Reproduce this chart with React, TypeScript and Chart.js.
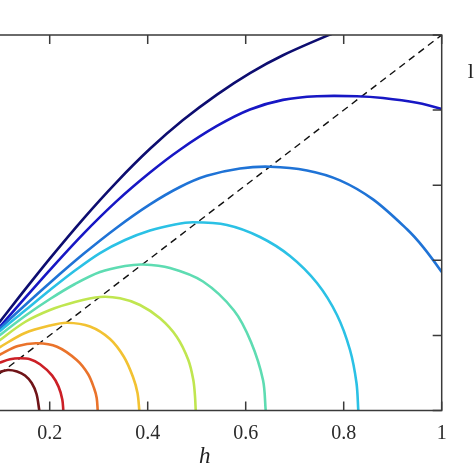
import React, { useEffect, useRef } from "react";
import { Chart, registerables, ChartOptions, Plugin } from "chart.js";

Chart.register(...registerables);

// each curve as (h, y) pairs
const darkRedX = [0.0741, 0.0986, 0.1149, 0.1333, 0.1496, 0.1633, 0.1731, 0.1788];
const darkRedY = [0.0905, 0.1025, 0.1079, 0.1039, 0.0932, 0.0732, 0.0439, 0];

const redX = [0.068, 0.0986, 0.119, 0.1394, 0.1598, 0.1802, 0.2047, 0.218, 0.2257, 0.2278];
const redY = [0.1132, 0.1278, 0.1364, 0.139, 0.1366, 0.1233, 0.0937, 0.0636, 0.0296, 0];

const orangeX = [0.068, 0.0986, 0.1353, 0.1741, 0.2149, 0.2551, 0.2782, 0.2904, 0.2959, 0.298];
const orangeY = [0.1292, 0.1491, 0.1718, 0.179, 0.1699, 0.1345, 0.0972, 0.0599, 0.0333, 0];

const yellowX = [0.068, 0.0986, 0.1496, 0.2006, 0.2353, 0.2822, 0.3231, 0.3516, 0.37, 0.3792, 0.3829];
const yellowY = [0.1451, 0.1691, 0.2064, 0.2264, 0.2338, 0.2237, 0.1904, 0.1425, 0.0892, 0.0466, 0];

const limeX = [0.068, 0.0986, 0.1496, 0.2006, 0.2516, 0.3027, 0.3435, 0.3843, 0.4251, 0.4592, 0.4829, 0.4931, 0.4965, 0.498];
const limeY = [0.1558, 0.1877, 0.2357, 0.2676, 0.2889, 0.3023, 0.2988, 0.281, 0.2455, 0.1965, 0.1345, 0.0812, 0.0386, 0];

const aquaX = [0.068, 0.0986, 0.1496, 0.2006, 0.2516, 0.3027, 0.3537, 0.3904, 0.4455, 0.5129, 0.5761, 0.6108, 0.6353, 0.6408];
const aquaY = [0.1691, 0.2011, 0.2517, 0.2969, 0.3369, 0.3688, 0.3848, 0.3888, 0.3795, 0.3435, 0.2663, 0.1824, 0.0812, 0];

const cyanX = [0.068, 0.0986, 0.1496, 0.2006, 0.2516, 0.3027, 0.3537, 0.4047, 0.4557, 0.4924, 0.5618, 0.6292, 0.6904, 0.7455, 0.7863, 0.8129, 0.8261, 0.8298];
const cyanY = [0.1771, 0.2117, 0.2663, 0.3209, 0.3728, 0.4194, 0.4541, 0.4794, 0.4953, 0.5012, 0.494, 0.4621, 0.4115, 0.3395, 0.2543, 0.1611, 0.0732, 0];

const azureX = [0.068, 0.0986, 0.1394, 0.2006, 0.2686, 0.3367, 0.4047, 0.4659, 0.5204, 0.5884, 0.6496, 0.7251, 0.7924, 0.8598, 0.9292, 0.9618, 1.0, 1.0271];
const azureY = [0.1811, 0.2189, 0.2684, 0.3403, 0.4165, 0.4868, 0.5489, 0.5952, 0.625, 0.6445, 0.6493, 0.6394, 0.613, 0.5622, 0.4826, 0.4357, 0.3686, 0.3137];

const blueX = [0.068, 0.0986, 0.1394, 0.2006, 0.2686, 0.3367, 0.4047, 0.4659, 0.5414, 0.6088, 0.6761, 0.7455, 0.8271, 0.8802, 0.9496, 1.0, 1.0373];
const blueY = [0.1766, 0.2232, 0.2844, 0.3747, 0.4706, 0.5577, 0.6338, 0.6945, 0.7577, 0.8016, 0.8272, 0.837, 0.837, 0.8322, 0.8194, 0.8029, 0.7859];

const navyX = [0.068, 0.0986, 0.1394, 0.2006, 0.2686, 0.3367, 0.4047, 0.472, 0.5414, 0.6088, 0.6761, 0.772, 0.8169];
const navyY = [0.1851, 0.237, 0.3052, 0.4051, 0.5105, 0.6083, 0.6969, 0.7734, 0.8413, 0.8985, 0.946, 1.0011, 1.0234];

// y = h reference line
const diagX = [0, 1];
const diagY = [0, 1];

const frameTicks = [0, 0.2, 0.4, 0.6, 0.8, 1];

const curves = [
  { x: darkRedX, y: darkRedY, color: "#701418" },
  { x: redX, y: redY, color: "#cc1f26" },
  { x: orangeX, y: orangeY, color: "#ea732b" },
  { x: yellowX, y: yellowY, color: "#f2c232" },
  { x: limeX, y: limeY, color: "#c0e650" },
  { x: aquaX, y: aquaY, color: "#5edcb2" },
  { x: cyanX, y: cyanY, color: "#2bc1e5" },
  { x: azureX, y: azureY, color: "#1f73d6" },
  { x: blueX, y: blueY, color: "#1717c4" },
  { x: navyX, y: navyY, color: "#0d0d70" },
];

const SERIF = "'Liberation Serif', 'DejaVu Serif', serif";
const AXIS = "#3a3a3a";

const zip = (xs: number[], ys: number[]) => xs.map((x, i) => ({ x, y: ys[i] }));

// box frame with inward ticks, the axis name and the clipped letter on the right
const framePlugin: Plugin<"line"> = {
  id: "frame",
  afterDatasetsDraw(chart) {
    const { ctx, chartArea: a, scales } = chart;
    const x = scales.x;
    const y = scales.y;
    const len = 9;
    ctx.save();
    ctx.strokeStyle = AXIS;
    ctx.lineWidth = 1.5;
    ctx.strokeRect(a.left, a.top, a.right - a.left, a.bottom - a.top);
    ctx.beginPath();
    frameTicks.forEach((v) => {
      const px = x.getPixelForValue(v);
      ctx.moveTo(px, a.bottom);
      ctx.lineTo(px, a.bottom - len);
      ctx.moveTo(px, a.top);
      ctx.lineTo(px, a.top + len);
      const py = y.getPixelForValue(v);
      ctx.moveTo(a.right, py);
      ctx.lineTo(a.right - len, py);
      ctx.moveTo(a.left, py);
      ctx.lineTo(a.left + len, py);
    });
    ctx.stroke();

    ctx.fillStyle = "#222";
    ctx.textBaseline = "alphabetic";
    ctx.textAlign = "center";
    ctx.font = `italic 23px ${SERIF}`;
    ctx.fillText("h", (a.left + a.right) / 2 + 8, 463);
    ctx.textAlign = "left";
    ctx.font = `22px ${SERIF}`;
    ctx.fillText("l", a.right + 26, 78);
    ctx.restore();
  },
};

export default function App() {
  const canvasRef = useRef<HTMLCanvasElement>(null);

  useEffect(() => {
    if (!canvasRef.current) return;
    const ctx = canvasRef.current.getContext("2d")!;

    const datasets: any[] = curves.map((c) => ({
      data: zip(c.x, c.y),
      borderColor: c.color,
      borderWidth: 2.6,
      pointRadius: 0,
      tension: 0.33,
      fill: false,
    }));
    datasets.push({
      data: zip(diagX, diagY),
      borderColor: "#111",
      borderWidth: 1.4,
      borderDash: [7, 5],
      pointRadius: 0,
      tension: 0,
      fill: false,
    });

    const options: ChartOptions<"line"> = {
      responsive: true,
      maintainAspectRatio: false,
      animation: false,
      layout: { padding: { left: 71.7, right: 32.3, top: 35, bottom: 0 } },
      plugins: {
        legend: { display: false },
        tooltip: { enabled: false },
      },
      scales: {
        x: {
          type: "linear",
          min: 0,
          max: 1,
          grid: { display: false, drawTicks: false },
          border: { display: false },
          ticks: {
            stepSize: 0.2,
            padding: 11,
            color: "#2a2a2a",
            font: { family: SERIF, size: 20 },
            maxRotation: 0,
            callback: (v) => String(+Number(v).toFixed(1)),
          },
          afterFit: (scale) => {
            scale.height = 63.5;
          },
        },
        y: {
          type: "linear",
          min: 0,
          max: 1,
          display: false,
        },
      },
    };

    const chart = new Chart(ctx, {
      type: "line",
      data: { datasets },
      options,
      plugins: [framePlugin],
    });

    return () => chart.destroy();
  }, []);

  return (
    <div style={{ position: "fixed", left: -120, top: 0, width: 594, height: 474, background: "#fff" }}>
      <canvas ref={canvasRef} />
    </div>
  );
}
